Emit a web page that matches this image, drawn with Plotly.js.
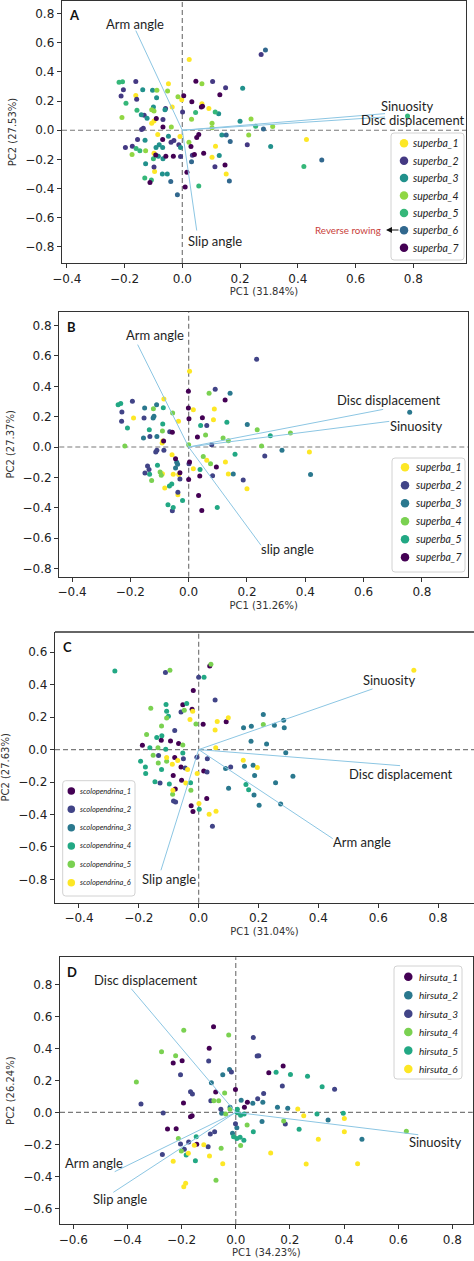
<!DOCTYPE html>
<html>
<head>
<meta charset="utf-8">
<script src="https://cdn.plot.ly/plotly-3.0.1.min.js"></script>
<style>
  html, body { margin: 0; padding: 0; background: #fff; }
  #chart { width: 474px; height: 1261px; }
</style>
</head>
<body>
<div id="chart"></div>
<script>
// ---------- Panel A : superba ----------
const A_groups = ['superba_1','superba_2','superba_3','superba_4','superba_5','superba_6','superba_7'];
const A1x = [0.024,-0.048,-0.161,-0.002,0.068,-0.035,0.092,-0.098,-0.106,-0.085,-0.008,0.43,0.115,-0.098,0.103,-0.096,0.152];
const A1y = [0.485,0.319,0.239,0.21,0.182,0.16,0.15,0.064,0.048,-0.03,-0.043,-0.064,-0.109,-0.157,-0.185,-0.283,-0.301];
const A2x = [0.273,-0.161,0.105,0.15,-0.204,-0.212,-0.158,-0.058,-0.132,0.001,-0.067,-0.135,-0.141,-0.155,-0.029,-0.039,-0.197,-0.173,-0.012,0.225,-0.006,0.035,-0.098,0.113];
const A2y = [0.52,0.335,0.335,0.292,0.278,0.235,0.212,0.15,0.103,0.125,0.073,0.014,0.005,-0.064,-0.071,-0.082,-0.119,-0.109,-0.1,-0.1,-0.18,-0.171,-0.253,-0.251];
const A3x = [0.209,-0.137,-0.103,-0.089,-0.1,-0.06,0.126,-0.142,-0.122,0.2,-0.048,0.137,-0.129,-0.08,-0.068,-0.091,-0.006,0.306,-0.083,-0.067,0.128,-0.127,-0.069,-0.052];
const A3y = [0.289,0.278,0.274,0.223,0.16,0.141,0.114,0.107,0.082,0.062,-0.041,-0.032,-0.068,-0.1,-0.119,-0.119,-0.119,-0.112,-0.178,-0.196,-0.173,-0.23,-0.301,-0.301];
const A4x = [0.068,-0.088,-0.051,-0.015,-0.106,-0.098,-0.209,0.032,0.238,0.103,0.103,0.313,-0.038,0.23,0.023,-0.174,-0.127];
const A4y = [0.319,0.274,0.269,0.23,0.141,0.132,0.087,0.075,0.077,0.048,0.018,0.025,0.023,-0.032,-0.082,-0.166,-0.141];
const A5x = [-0.219,-0.207,-0.195,-0.157,0.046,0.114,0.254,0.78,-0.16,-0.147,-0.1,0.421,-0.13,-0.107,0.057];
const A5y = [0.33,0.333,0.185,0.137,0.121,0.125,0.027,0.098,-0.125,-0.141,-0.196,-0.248,-0.328,-0.342,-0.383];
const A6x = [0.288,0.281,0.152,0.166,0.032,0.483,-0.04,0.163,-0.017];
const A6y = [0.55,0.009,-0.032,-0.077,-0.217,-0.205,-0.351,-0.349,-0.442];
const A7x = [0.047,0.13,0.005,0.033,0.066,0.07,-0.09,-0.067,0.057,0.05,-0.068,0.03,-0.092,-0.057,-0.031,0.042,0.074,0.148,0.016,-0.112,0.01];
const A7y = [0.337,0.244,0.237,0.196,0.16,0.164,0.08,0.023,-0.03,-0.05,-0.064,-0.112,-0.169,-0.178,-0.178,-0.166,-0.157,-0.239,-0.289,-0.358,-0.39];
const A_loadNames = ['Arm angle','Slip angle','Sinuosity','Disc displacement'];
const A_loadX = [-0.161,0.05,0.702,0.702];
const A_loadY = [0.684,-0.688,0.114,0.091];
const A_titles = ['PC1 (31.84%)','PC2 (27.53%)'];

// ---------- Panel B : superba ----------
const B_groups = ['superba_1','superba_2','superba_3','superba_4','superba_5','superba_7'];
const B1x = [0.003,-0.085,0.016,0.088,-0.189,0.085,-0.035,-0.089,-0.091,0.414,-0.057,0.062,0.126,-0.09,-0.053,-0.034,0.016,0.136,0.2,-0.082,-0.037];
const B1y = [0.499,0.316,0.246,0.251,0.191,0.18,0.169,0.04,0.026,-0.033,-0.051,-0.088,-0.099,-0.176,-0.18,-0.182,-0.143,-0.178,-0.275,-0.27,-0.314];
const B2x = [0.233,0.091,-0.193,-0.229,-0.153,-0.23,0.062,-0.065,-0.133,0.079,-0.109,-0.113,-0.085,0.001,0.261,-0.141,-0.136,-0.15,-0.03,0.082,0.187,-0.037,-0.056];
const B2y = [0.578,0.38,0.301,0.231,0.191,0.169,0.141,0.101,0.07,0.015,-0.022,-0.033,-0.022,-0.11,-0.059,-0.125,-0.149,-0.171,-0.211,-0.189,-0.218,-0.299,-0.42];
const B3x = [0.758,0.142,-0.11,-0.151,-0.122,-0.119,0.201,-0.155,-0.109,0.32,-0.041,-0.038,-0.045,0.153,0.418];
const B3y = [0.229,0.354,0.279,0.257,0.191,0.202,0.149,0.059,0.07,-0.022,-0.101,-0.114,-0.138,-0.178,-0.182];
const B4x = [0.07,-0.121,-0.055,-0.09,0.058,0.118,0.136,0.235,0.349,-0.219,0.0,0.25,0.05,0.075,-0.098,-0.094,-0.127];
const B4y = [0.354,0.253,0.224,0.105,0.079,0.059,0.042,0.114,0.092,0.007,0.015,0.007,-0.062,-0.11,-0.165,-0.187,-0.22];
const B5x = [-0.242,-0.233,-0.087,-0.21,-0.135,-0.089,0.041,0.131,0.28,0.159,-0.107,-0.134,0.039,-0.066,-0.058,-0.021,-0.071,-0.053,0.098];
const B5y = [0.279,0.286,0.259,0.125,0.114,0.152,0.141,0.163,0.075,-0.048,-0.121,-0.18,-0.149,-0.257,-0.244,-0.352,-0.38,-0.398,-0.398];
const B7x = [-0.001,0.125,-0.001,0.001,0.047,-0.056,0.03,-0.086,-0.045,0.003,0.095,-0.03,0.0,0.038,0.034,0.045];
const B7y = [0.367,0.31,0.257,0.187,0.193,0.097,0.066,0.04,-0.077,-0.099,-0.132,-0.169,-0.215,-0.191,-0.319,-0.418];
const B_loadNames = ['Arm angle','Disc displacement','Sinuosity','slip angle'];
const B_loadX = [-0.175,0.667,0.688,0.248];
const B_loadY = [0.675,0.248,0.169,-0.648];
const B_titles = ['PC1 (31.26%)','PC2 (27.37%)'];

// ---------- Panel C : scolopendrina ----------
const C_groups = ['scolopendrina_1','scolopendrina_2','scolopendrina_3','scolopendrina_4','scolopendrina_5','scolopendrina_6'];
const C1x = [0.037,-0.018,-0.053,-0.022,0.015,0.092,-0.125,-0.094,-0.067,-0.188,-0.08,-0.059,-0.085,0.017,-0.057,-0.078,-0.025,-0.019,0.027];
const C1y = [0.516,0.364,0.276,0.249,0.156,0.171,0.058,0.053,0.037,0.027,-0.049,-0.107,-0.16,-0.132,-0.189,-0.243,-0.347,-0.382,-0.302];
const C2x = [-0.111,0.0,0.055,-0.059,-0.08,-0.134,-0.051,-0.006,0.029,-0.045,0.028,0.107,-0.129,-0.084,-0.077,0.046];
const C2y = [0.475,0.446,0.306,0.232,0.117,-0.037,-0.056,-0.047,-0.056,-0.113,-0.138,-0.107,-0.206,-0.317,-0.323,-0.473];
const C3x = [0.227,0.175,0.15,0.176,0.253,0.216,0.284,0.286,0.291,0.315,0.09,0.153,0.182,0.187,0.1,0.185,0.257,0.274,0.202];
const C3y = [0.035,0.051,0.134,0.144,0.15,0.216,0.181,0.134,-0.019,-0.164,-0.117,-0.103,-0.097,-0.16,-0.238,-0.28,-0.204,-0.335,-0.343];
const C4x = [-0.28,0.018,-0.109,-0.04,-0.101,-0.14,-0.123,-0.163,-0.11,-0.053,-0.194,-0.178,-0.177,-0.124,-0.146,-0.098,-0.027,0.158,0.167,0.002,-0.107];
const C4y = [0.485,0.446,0.278,0.284,0.206,0.074,0.086,0.012,0.002,-0.021,-0.072,-0.107,-0.148,-0.123,-0.199,-0.212,-0.204,-0.216,-0.247,-0.368,0.236];
const C5x = [-0.096,0.041,-0.16,-0.048,-0.107,-0.009,-0.124,-0.174,-0.053,-0.136,-0.152,-0.107,-0.135,0.216,-0.087,-0.026];
const C5y = [0.489,0.526,0.255,0.243,0.195,0.158,0.146,0.093,0.029,0.012,-0.035,-0.072,-0.082,0.154,-0.275,-0.251];
const C6x = [0.719,-0.02,-0.029,0.099,0.062,0.055,0.057,-0.107,-0.07,-0.088,-0.037,-0.005,0.149,0.196,-0.043,-0.086,0.001,0.035,0.058];
const C6y = [0.489,0.236,0.185,0.197,0.173,0.121,0.012,-0.049,-0.068,-0.09,-0.123,-0.148,-0.066,-0.111,-0.206,-0.251,-0.333,-0.399,-0.38];
const C_loadNames = ['Sinuosity','Disc displacement','Arm angle','Slip angle'];
const C_loadX = [0.581,0.673,0.448,-0.126];
const C_loadY = [0.374,-0.099,-0.549,-0.744];
const C_titles = ['PC1 (31.04%)','PC2 (27.63%)'];

// ---------- Panel D : hirsuta ----------
const D_groups = ['hirsuta_1','hirsuta_2','hirsuta_3','hirsuta_4','hirsuta_5','hirsuta_6'];
const D1x = [-0.082,-0.098,-0.198,-0.231,0.122,0.175,-0.074,-0.001,0.043,-0.193,0.032,-0.161,-0.167,-0.252,-0.22,-0.144];
const D1y = [0.535,0.4,0.323,0.308,0.248,0.29,0.127,0.142,0.063,0.058,0.031,-0.021,-0.027,-0.104,-0.102,-0.2];
const D2x = [-0.023,-0.048,-0.09,0.02,0.063,0.1,-0.021,0.154,0.192,-0.052,0.341,0.097,0.004,0.466,-0.012];
const D2y = [0.267,0.235,0.185,0.075,0.056,0.063,0.031,0.031,0.025,-0.006,-0.048,-0.058,-0.096,-0.169,-0.131];
const D3x = [0.065,-0.1,0.079,0.085,-0.016,-0.204,0.365,0.172,-0.167,-0.16,0.103,0.081,-0.35,-0.092,-0.055,-0.268,-0.001,0.183,-0.078,-0.094,-0.204,-0.174,-0.19,-0.271,-0.102];
const D3y = [0.467,0.321,0.352,0.354,0.252,0.235,0.144,0.164,0.129,0.115,0.117,0.085,0.052,0.073,0.019,-0.004,-0.071,-0.073,-0.121,-0.135,-0.198,-0.185,-0.231,-0.263,-0.215];
const D4x = [-0.192,-0.026,-0.274,-0.222,-0.367,-0.041,-0.081,-0.063,-0.021,-0.037,0.042,0.177,0.63,-0.212,0.018,-0.201,-0.054,-0.073];
const D4y = [0.513,0.483,0.379,0.354,0.19,0.121,0.073,0.073,0.019,-0.01,-0.079,-0.054,-0.119,-0.163,-0.208,-0.242,-0.225,-0.425];
const D5x = [0.149,0.202,0.265,0.319,0.006,0.006,0.018,0.031,0.3,0.397,0.065,0.234,-0.008,0.004,0.016,0.03,-0.146,-0.183,-0.149];
const D5y = [0.25,0.237,0.225,0.16,0.019,-0.002,-0.019,-0.01,-0.01,-0.006,-0.121,-0.106,-0.152,-0.163,-0.156,-0.175,-0.152,-0.267,-0.302];
const D6x = [0.229,0.251,0.401,0.401,0.305,-0.118,-0.153,-0.175,-0.097,-0.048,-0.231,0.129,0.26,0.45,-0.185,-0.192];
const D6y = [0.021,-0.021,-0.038,-0.121,-0.169,-0.202,-0.206,-0.256,-0.273,-0.321,-0.306,-0.254,-0.323,-0.321,-0.444,-0.465];
const D_loadNames = ['Disc displacement','Sinuosity','Arm angle','Slip angle'];
const D_loadX = [-0.386,0.674,-0.447,-0.452];
const D_loadY = [0.773,-0.14,-0.371,-0.5];
const D_titles = ['PC1 (34.23%)','PC2 (26.24%)'];

// ---------- styling / layout (pixels of the 474 x 1261 page) ----------
const W = 474, H = 1261;
const VIR7 = ['#fde725','#443983','#21918c','#90d743','#35b779','#31688e','#440154'];
const VIR_B = ['#fde725','#414487','#2a788e','#7ad151','#22a884','#440154'];
const VIR_C = ['#440154','#414487','#2a788e','#22a884','#7ad151','#fde725'];
const VIR_D = ['#440154','#2a788e','#414487','#7ad151','#22a884','#fde725'];
const LOAD_COLOR = '#8cc6e3';
const LABEL_FONT = {family: 'Lato, "Open Sans", sans-serif', size: 13, color: '#1e1e1e'};

// box = plot area [left, top, right, bottom] in px; labelShift = px offset of each loading label from its tip;
// legend = frame [left, top, right, bottom], marker column, first row, row step, text column, font size, dot size
const panels = [
  { key: '', letter: 'A', box: [62, 1, 466, 263], xr: [-0.4166, 0.9825], yr: [-0.911, 0.887],
    groups: A_groups, colors: VIR7,
    xs: [A1x, A2x, A3x, A4x, A5x, A6x, A7x], ys: [A1y, A2y, A3y, A4y, A5y, A6y, A7y],
    load: [A_loadNames, A_loadX, A_loadY], titles: A_titles,
    labelShift: [[-1, 6.6], [18.3, -10], [22.3, 7.6], [27.7, -3.3]],
    legend: {box: [391, 133, 464, 260], mx: 404, y0: 143.3, dy: 17.4, tx: 411, size: 10.5, dot: 8.5} },
  { key: '2', letter: 'B', box: [59.3, 312, 468, 576.7], xr: [-0.4437, 0.958], yr: [-0.855, 0.890],
    groups: B_groups, colors: VIR_B,
    xs: [B1x, B2x, B3x, B4x, B5x, B7x], ys: [B1y, B2y, B3y, B4y, B5y, B7y],
    load: [B_loadNames, B_loadX, B_loadY], titles: B_titles,
    labelShift: [[17.6, 10.1], [6.1, 9.1], [26.4, -4.6], [26.3, -4.1]],
    legend: {box: [392, 458, 465, 572], mx: 405, y0: 467.3, dy: 18.0, tx: 413.5, size: 10.5, dot: 8.5} },
  { key: '3', letter: 'C', box: [55, 632, 474, 902.7], xr: [-0.480, 0.920], yr: [-0.944, 0.725],
    groups: C_groups, colors: VIR_C,
    xs: [C1x, C2x, C3x, C4x, C5x, C6x], ys: [C1y, C2y, C3y, C4y, C5y, C6y],
    load: [C_loadNames, C_loadX, C_loadY], titles: C_titles,
    labelShift: [[16.8, 8.7], [0.9, -8.7], [29.3, -3.7], [7.7, -8.4]],
    legend: {box: [62.7, 780.7, 135, 896], mx: 71.3, y0: 791, dy: 18.33, tx: 77.5, size: 7.5, dot: 7.5} },
  { key: '4', letter: 'D', box: [60, 957.3, 472.7, 1224], xr: [-0.649, 0.875], yr: [-0.698, 0.969],
    groups: D_groups, colors: VIR_D,
    xs: [D1x, D2x, D3x, D4x, D5x, D6x], ys: [D1y, D2y, D3y, D4y, D5y, D6y],
    load: [D_loadNames, D_loadX, D_loadY], titles: D_titles,
    labelShift: [[14.5, 8.3], [16.8, -7], [-20.9, 9], [6.7, -7]],
    legend: {box: [394, 966, 462, 1079], mx: 408.3, y0: 976.7, dy: 18.47, tx: 416.5, size: 10, dot: 8.5} }
];

const traces = [];
const shapes = [];
const annotations = [];
const layout = {
  width: W, height: H,
  margin: {l: 0, r: 0, t: 0, b: 0},
  paper_bgcolor: '#ffffff', plot_bgcolor: '#ffffff',
  font: {family: '"DejaVu Sans", sans-serif', color: '#222'},
  showlegend: false
};

const px = v => v / W;          // page px -> paper x
const py = v => 1 - v / H;      // page px -> paper y

// rounded legend frame as an SVG path in paper coordinates
function roundedBox(l, t, r, b, rad) {
  return 'M' + px(l + rad) + ',' + py(t) +
    ' L' + px(r - rad) + ',' + py(t) + ' Q' + px(r) + ',' + py(t) + ' ' + px(r) + ',' + py(t + rad) +
    ' L' + px(r) + ',' + py(b - rad) + ' Q' + px(r) + ',' + py(b) + ' ' + px(r - rad) + ',' + py(b) +
    ' L' + px(l + rad) + ',' + py(b) + ' Q' + px(l) + ',' + py(b) + ' ' + px(l) + ',' + py(b - rad) +
    ' L' + px(l) + ',' + py(t + rad) + ' Q' + px(l) + ',' + py(t) + ' ' + px(l + rad) + ',' + py(t) + ' Z';
}

panels.forEach((p, pi) => {
  const xa = 'x' + p.key, ya = 'y' + p.key;
  const xName = 'xaxis' + p.key, yName = 'yaxis' + p.key;
  const [l, t, r, b] = p.box;
  const axisCommon = {
    showgrid: false, zeroline: false, showline: true, mirror: true,
    linecolor: '#333', linewidth: 1.3,
    ticks: 'outside', ticklen: 4, tickwidth: 1, tickcolor: '#333',
    tick0: 0, dtick: 0.2, tickformat: '.1f',
    tickfont: {family: '"DejaVu Sans", sans-serif', size: 12, color: '#222'},
    fixedrange: true
  };
  layout[xName] = Object.assign({}, axisCommon, {
    domain: [l / W, r / W], range: p.xr, anchor: ya,
    mirror: pi === 2 ? false : true,
    title: {text: p.titles[0], font: {family: '"DejaVu Sans", sans-serif', size: 10, color: '#333'}, standoff: 3}
  });
  layout[yName] = Object.assign({}, axisCommon, {
    domain: [1 - b / H, 1 - t / H], range: p.yr, anchor: xa,
    mirror: pi === 2 ? false : true,
    title: {text: p.titles[1], font: {family: '"DejaVu Sans", sans-serif', size: 10, color: '#333'}, standoff: 6}
  });
  if (pi === 2) {
    // top spine only (the right edge falls at the page border)
    shapes.push({type: 'line', xref: xa + ' domain', yref: ya + ' domain', x0: 0, x1: 1, y0: 1, y1: 1,
      line: {color: '#333', width: 1.3}});
  }

  // dashed reference lines through the origin
  shapes.push({type: 'line', layer: 'below', xref: xa, yref: ya + ' domain', x0: 0, x1: 0, y0: 0, y1: 1,
    line: {color: '#7a7a7a', width: 1.2, dash: '5px,3px'}});
  shapes.push({type: 'line', layer: 'below', xref: xa + ' domain', yref: ya, x0: 0, x1: 1, y0: 0, y1: 0,
    line: {color: '#7a7a7a', width: 1.2, dash: '5px,3px'}});

  // PCA scores, one trace per group
  p.groups.forEach((g, gi) => {
    traces.push({
      type: 'scatter', mode: 'markers', xaxis: xa, yaxis: ya,
      x: p.xs[gi], y: p.ys[gi], name: g, hoverinfo: 'skip',
      marker: {size: 5, color: p.colors[gi], line: {width: 0}}
    });
  });

  // loading vectors with their labels
  const [names, lx, ly] = p.load;
  names.forEach((n, k) => {
    traces.push({
      type: 'scatter', mode: 'lines', xaxis: xa, yaxis: ya,
      x: [0, lx[k]], y: [0, ly[k]], hoverinfo: 'skip',
      line: {color: LOAD_COLOR, width: 1}
    });
    annotations.push({
      xref: xa, yref: ya, x: lx[k], y: ly[k], text: n, showarrow: false,
      xanchor: 'center', yanchor: 'middle',
      xshift: p.labelShift[k][0], yshift: p.labelShift[k][1],
      font: LABEL_FONT
    });
  });

  // panel letter
  annotations.push({
    xref: xa + ' domain', yref: ya + ' domain', x: 0.03, y: 0.945, xanchor: 'center', yanchor: 'middle',
    text: '<b>' + p.letter + '</b>', showarrow: false,
    font: {family: 'Lato, sans-serif', size: 13, color: '#111'}
  });

  // legend: frame, colour dots and italic group names
  const L = p.legend;
  shapes.push({type: 'path', xref: 'paper', yref: 'paper', path: roundedBox(L.box[0], L.box[1], L.box[2], L.box[3], 3),
    fillcolor: 'rgba(255,255,255,0.95)', line: {color: '#d2d2d2', width: 1}});
  p.groups.forEach((g, gi) => {
    const cy = L.y0 + gi * L.dy, rr = L.dot / 2;
    shapes.push({type: 'circle', xref: 'paper', yref: 'paper',
      x0: px(L.mx - rr), x1: px(L.mx + rr), y0: py(cy + rr), y1: py(cy - rr),
      fillcolor: p.colors[gi], line: {width: 0}});
    annotations.push({xref: 'paper', yref: 'paper', x: px(L.tx), y: py(cy), xanchor: 'left', yanchor: 'middle',
      text: '<i>' + g + '</i>', showarrow: false,
      font: {family: 'Lato, sans-serif', size: L.size, color: '#222'}});
  });
});

// "Reverse rowing" note pointing to the superba_6 legend entry
annotations.push({
  xref: 'paper', yref: 'paper', x: px(386), y: py(230), ax: 14, ay: 0,
  text: '', showarrow: true, arrowhead: 2, arrowsize: 1, arrowwidth: 1.2, arrowcolor: '#111'
});
annotations.push({
  xref: 'paper', yref: 'paper', x: px(383), y: py(230), xanchor: 'right', yanchor: 'middle',
  text: 'Reverse rowing', showarrow: false,
  font: {family: 'Lato, sans-serif', size: 9.8, color: '#c9413b'}
});

layout.shapes = shapes;
layout.annotations = annotations;

Plotly.newPlot('chart', traces, layout, {staticPlot: true, displayModeBar: false});
</script>
</body>
</html>
